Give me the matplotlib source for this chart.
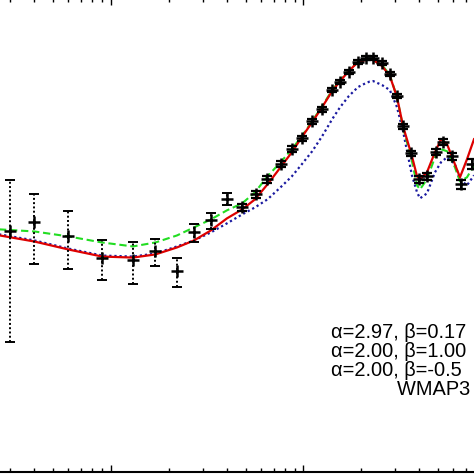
import matplotlib
matplotlib.use("Agg")
import matplotlib.pyplot as plt
import numpy as np

plt.rcParams['font.family'] = ['Liberation Sans', 'DejaVu Sans']

# WMAP3 binned band powers l(l+1)C_l/2pi [uK^2]
data_l  = [3, 4, 6, 9, 13, 17, 22, 27, 33, 40,
           48, 57, 65, 76, 87, 98, 111, 125, 141, 155, 172, 192, 211, 230,
           256, 281, 306, 329, 362, 398, 438, 488, 530, 591, 658, 750]
data_v  = [1011, 1107, 962, 778, 763, 827, 683, 1001, 1130, 1395,
           1288, 1467, 1705, 1983, 2306, 2576, 3056, 3447, 4175, 4524, 5001, 5531, 5758, 5758,
           5475, 4903, 3930, 2906, 2215, 1705, 1757, 2238, 2474, 2149, 1621, 1983]
data_lo = [335, 733, 697, 624, 599, 718, 582, 914, 1032, 1313]
data_hi = [1689, 1467, 1236, 924, 906, 933, 778, 1085, 1212, 1482]
data_err = [45, 50, 55, 60, 65, 70, 80, 85, 90, 90, 90, 90, 90, 90,
            90, 90, 80, 70, 60, 55, 55, 70, 80, 80, 80, 100]

# model curves
model_l = [2, 2.65, 4, 6, 9, 13, 17, 22, 27, 33, 40, 48, 56, 65, 76, 87, 98, 111, 125,
           141, 155, 172, 192, 211, 220, 230, 256, 281, 306, 329, 366, 389, 403, 438,
           482, 518, 557, 612, 650, 707, 769]
red   = [991, 971, 914, 844, 786, 778, 803, 861, 924, 1021, 1152, 1261, 1395, 1621, 1924,
         2237, 2602, 3026, 3518, 4132, 4568, 5052, 5531, 5643, 5700, 5643, 5313, 4804, 3890,
         2906, 2149, 1757, 1705, 1830, 2237, 2550, 2425, 1983, 1740, 2086, 2550]
green = [1042, 1032, 1011, 962, 905, 870, 905, 971, 1053, 1140, 1249, 1340, 1497, 1757,
         2023, 2306, 2628, 3056, 3553, 4173, 4614, 5104, 5531, 5700, 5720, 5643, 5366, 4853,
         3890, 2877, 2044, 1605, 1542, 1705, 2128, 2306, 2260, 1924, 1671, 1740, 1963]
blue  = [981, 981, 924, 852, 794, 786, 810, 870, 924, 1001, 1096, 1199, 1287, 1395, 1574,
         1757, 1983, 2260, 2628, 3118, 3518, 3929, 4301, 4477, 4540, 4568, 4388, 4173, 3518,
         2764, 1775, 1497, 1409, 1481, 1830, 2023, 2128, 1983, 1705, 1605, 1775]

labels = ['α=2.97, β=0.17', 'α=2.00, β=1.00', 'α=2.00, β=-0.5', '            WMAP3']

fig = plt.figure(figsize=(4.74, 4.74), dpi=100)
ax = fig.add_axes([0, 2/474, 1, 474.5/474])
ax.set_xscale('log')
ax.set_yscale('log')
ax.set_xlim(2.651, 768.8)
ax.set_ylim(90.6, 10560)

ax.plot(model_l, blue, color='#1a1aa0', lw=1.6, ls=(0, (1, 1.3)))
ax.plot(model_l, green, color='#22dd22', lw=1.5, ls=(0, (3.5, 1.8)))
ax.plot(model_l, red, color='#dd0000', lw=1.6)

n = len(data_lo)
low_l = data_l[:n]
low_v = data_v[:n]
yerr_low = [np.array(low_v) - np.array(data_lo), np.array(data_hi) - np.array(low_v)]
eb = ax.errorbar(low_l, low_v, yerr=yerr_low, fmt='none', ecolor='k',
                 elinewidth=1.4, capsize=3.5, capthick=1.4)
eb[2][0].set_linestyle((0, (1, 1.2)))
eb2 = ax.errorbar(data_l[n:], data_v[n:], yerr=data_err, fmt='none', ecolor='k',
                  elinewidth=1.4, capsize=3.5, capthick=1.6)
ax.plot(data_l, data_v, '+', color='k', ms=9, mew=1.8)

ax.spines['left'].set_visible(False)
ax.spines['right'].set_visible(False)
ax.spines['bottom'].set_linewidth(1.5)
ax.spines['top'].set_linewidth(1.5)
ax.tick_params(axis='y', which='both', left=False, right=False, labelleft=False)
ax.tick_params(axis='x', which='both', direction='in', top=True, bottom=True,
               labelbottom=False, width=1.0)
ax.tick_params(axis='x', which='major', length=5)
ax.tick_params(axis='x', which='minor', length=3)

# key text
fig.text(331/474, 1 - 361/474, '\n'.join(labels), ha='left', va='center',
         multialignment='left', fontsize=14.4, linespacing=1.0)

fig.savefig('out.png', dpi=100)
